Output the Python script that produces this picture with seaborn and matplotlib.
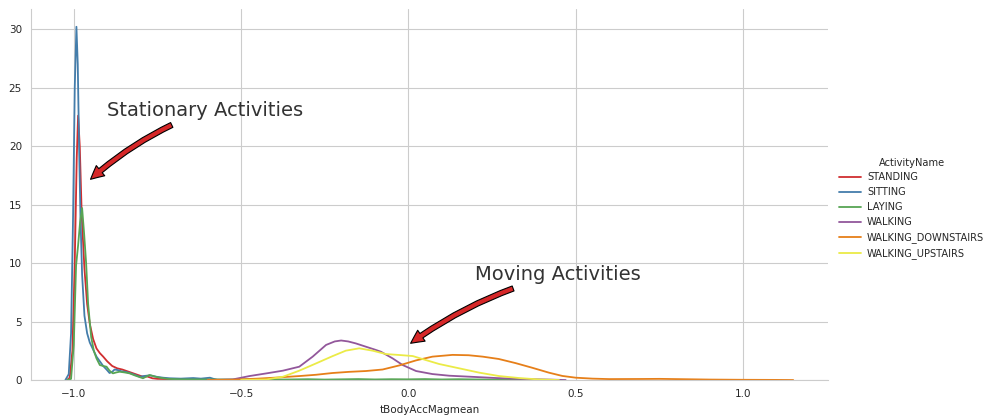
import matplotlib
matplotlib.use("Agg")
import matplotlib.pyplot as plt
from matplotlib.lines import Line2D
import numpy as np
import pandas as pd
import seaborn as sns

activities = ["STANDING", "SITTING", "LAYING", "WALKING",
              "WALKING_DOWNSTAIRS", "WALKING_UPSTAIRS"]

standing_x = [-1.02, -1.012, -1.004, -0.997, -0.991, -0.987, -0.982, -0.976, -0.968,
              -0.96, -0.952, -0.942, -0.932, -0.922, -0.912, -0.9, -0.885, -0.87,
              -0.855, -0.84, -0.825, -0.81, -0.795, -0.78, -0.765, -0.75, -0.72,
              -0.68, -0.62, -0.58, -0.55]
standing_y = [0, 0.2, 2.5, 10, 19, 22.6, 20, 14, 9.5, 6.5, 4.8, 3.5, 2.7, 2.3, 2.0,
              1.6, 1.2, 1.0, 0.9, 0.75, 0.6, 0.45, 0.3, 0.3, 0.15, 0.1, 0.08,
              0.06, 0.05, 0.03, 0]

sitting_x = [-1.025, -1.015, -1.008, -1.002, -0.997, -0.992, -0.988, -0.984, -0.98,
             -0.975, -0.968, -0.96, -0.952, -0.942, -0.932, -0.922, -0.912, -0.902,
             -0.893, -0.885, -0.878, -0.868, -0.858, -0.845, -0.833, -0.818, -0.803,
             -0.788, -0.773, -0.763, -0.753, -0.733, -0.713, -0.68, -0.643, -0.62,
             -0.593, -0.58, -0.57]
sitting_y = [0, 0.5, 4, 14, 25, 30.2, 27, 20, 14, 9, 5.5, 4.0, 3.2, 2.6, 2.0, 1.6,
             1.2, 0.9, 0.6, 0.7, 0.9, 0.85, 0.75, 0.7, 0.6, 0.45, 0.28, 0.35, 0.4,
             0.35, 0.28, 0.2, 0.15, 0.12, 0.17, 0.12, 0.2, 0.08, 0]

laying_x = [-1.02, -1.008, -1.0, -0.993, -0.987, -0.981, -0.975, -0.969, -0.963,
            -0.957, -0.948, -0.94, -0.932, -0.922, -0.912, -0.902, -0.893, -0.883,
            -0.873, -0.863, -0.848, -0.833, -0.818, -0.803, -0.793, -0.783, -0.773,
            -0.758, -0.743, -0.72, -0.68, -0.62, -0.55, -0.5, -0.45, -0.4, -0.35,
            -0.3, -0.25, -0.2, -0.15, -0.1, -0.05, 0.0, 0.05, 0.1, 0.15, 0.2, 0.25,
            0.3, 0.35]
laying_y = [0, 0.1, 3, 9.8, 11.5, 13.5, 14.7, 12.5, 10, 6.5, 3.7, 2.5, 1.85, 1.28,
            1.2, 1.14, 0.8, 0.57, 0.65, 0.71, 0.65, 0.57, 0.4, 0.25, 0.15, 0.3, 0.43,
            0.3, 0.2, 0.1, 0.06, 0.05, 0.05, 0.04, 0.06, 0.04, 0.05, 0.07, 0.04,
            0.06, 0.08, 0.05, 0.07, 0.06, 0.08, 0.05, 0.07, 0.05, 0.04, 0.02, 0]

walking_x = [-0.6, -0.525, -0.475, -0.424, -0.375, -0.326, -0.286, -0.246, -0.22,
             -0.201, -0.18, -0.157, -0.127, -0.1, -0.082, -0.047, -0.017, 0.023,
             0.072, 0.122, 0.172, 0.222, 0.27, 0.32, 0.37, 0.42, 0.47]
walking_y = [0, 0.05, 0.34, 0.57, 0.8, 1.14, 2.0, 3.0, 3.3, 3.38, 3.3, 3.13, 2.85,
             2.6, 2.42, 1.85, 1.28, 0.77, 0.51, 0.37, 0.3, 0.23, 0.16, 0.11, 0.07,
             0.04, 0]

downstairs_x = [-0.6, -0.525, -0.45, -0.4, -0.326, -0.276, -0.227, -0.177, -0.127,
                -0.077, -0.027, 0.023, 0.072, 0.132, 0.18, 0.222, 0.27, 0.32, 0.37,
                0.42, 0.46, 0.5, 0.55, 0.6, 0.7, 0.75, 0.8, 0.9, 1.0, 1.1, 1.15]
downstairs_y = [0, 0.03, 0.12, 0.2, 0.34, 0.45, 0.6, 0.7, 0.77, 0.9, 1.25, 1.68,
                2.0, 2.15, 2.12, 2.0, 1.8, 1.45, 1.05, 0.63, 0.35, 0.2, 0.12, 0.08,
                0.09, 0.1, 0.08, 0.04, 0.02, 0.01, 0]

upstairs_x = [-0.5, -0.424, -0.375, -0.326, -0.276, -0.226, -0.187, -0.147, -0.107,
              -0.067, -0.027, 0.013, 0.052, 0.092, 0.152, 0.212, 0.271, 0.331, 0.39,
              0.45]
upstairs_y = [0, 0.05, 0.28, 0.8, 1.42, 2.05, 2.51, 2.71, 2.51, 2.22, 2.14, 2.05,
              1.71, 1.37, 1.0, 0.63, 0.34, 0.17, 0.05, 0]

series_x = [standing_x, sitting_x, laying_x, walking_x, downstairs_x, upstairs_x]
series_y = [standing_y, sitting_y, laying_y, walking_y, downstairs_y, upstairs_y]

frames = []
for name, xs, ys in zip(activities, series_x, series_y):
    frames.append(pd.DataFrame({"tBodyAccMagmean": xs, "density": ys,
                                "ActivityName": name}))
df = pd.concat(frames, ignore_index=True)

sns.set_style("whitegrid")
plt.rcParams["font.family"] = ["DejaVu Sans"]
palette = sns.color_palette("Set1", len(activities), desat=0.8)

g = sns.FacetGrid(df, hue="ActivityName", hue_order=activities, palette=palette,
                  height=4.19, aspect=9.97 / 4.19)
g.map(plt.plot, "tBodyAccMagmean", "density", lw=1.3)
fig = g.figure
fig.set_size_inches(9.97, 4.19)
fig.subplots_adjust(left=0.031, right=0.8305, bottom=0.093, top=0.978)
ax = g.ax
ax.set_xlim(-1.128, 1.254)
ax.set_ylim(0, 31.7)
ax.set_xticks([-1.0, -0.5, 0.0, 0.5, 1.0])
ax.set_yticks([0, 5, 10, 15, 20, 25, 30])
ax.tick_params(labelsize=7.5, colors=".15", pad=3)
ax.set_xlabel("tBodyAccMagmean", fontsize=7.5, color=".15", labelpad=4)
ax.set_ylabel("")

arrow = dict(arrowstyle="simple", connectionstyle="arc3,rad=0.1",
             fc="#d62728", ec="black", lw=0.8, mutation_scale=19)
ax.annotate("Stationary Activities", xy=(-0.956, 17), xytext=(-0.9, 23),
            size=14, va="center", ha="left", color=".2", arrowprops=arrow)
ax.annotate("Moving Activities", xy=(0, 3), xytext=(0.2, 9),
            size=14, va="center", ha="left", color=".2", arrowprops=arrow)

handles = [Line2D([], [], color=c, lw=1.3) for c in palette]
leg = fig.legend(handles, activities, title="ActivityName", loc="center left",
                 bbox_to_anchor=(0.833, 0.503), frameon=False, fontsize=7.1,
                 title_fontsize=7.1, handlelength=2.2, handletextpad=0.6,
                 labelspacing=0.5)
fig.savefig("out.png", dpi=100)
